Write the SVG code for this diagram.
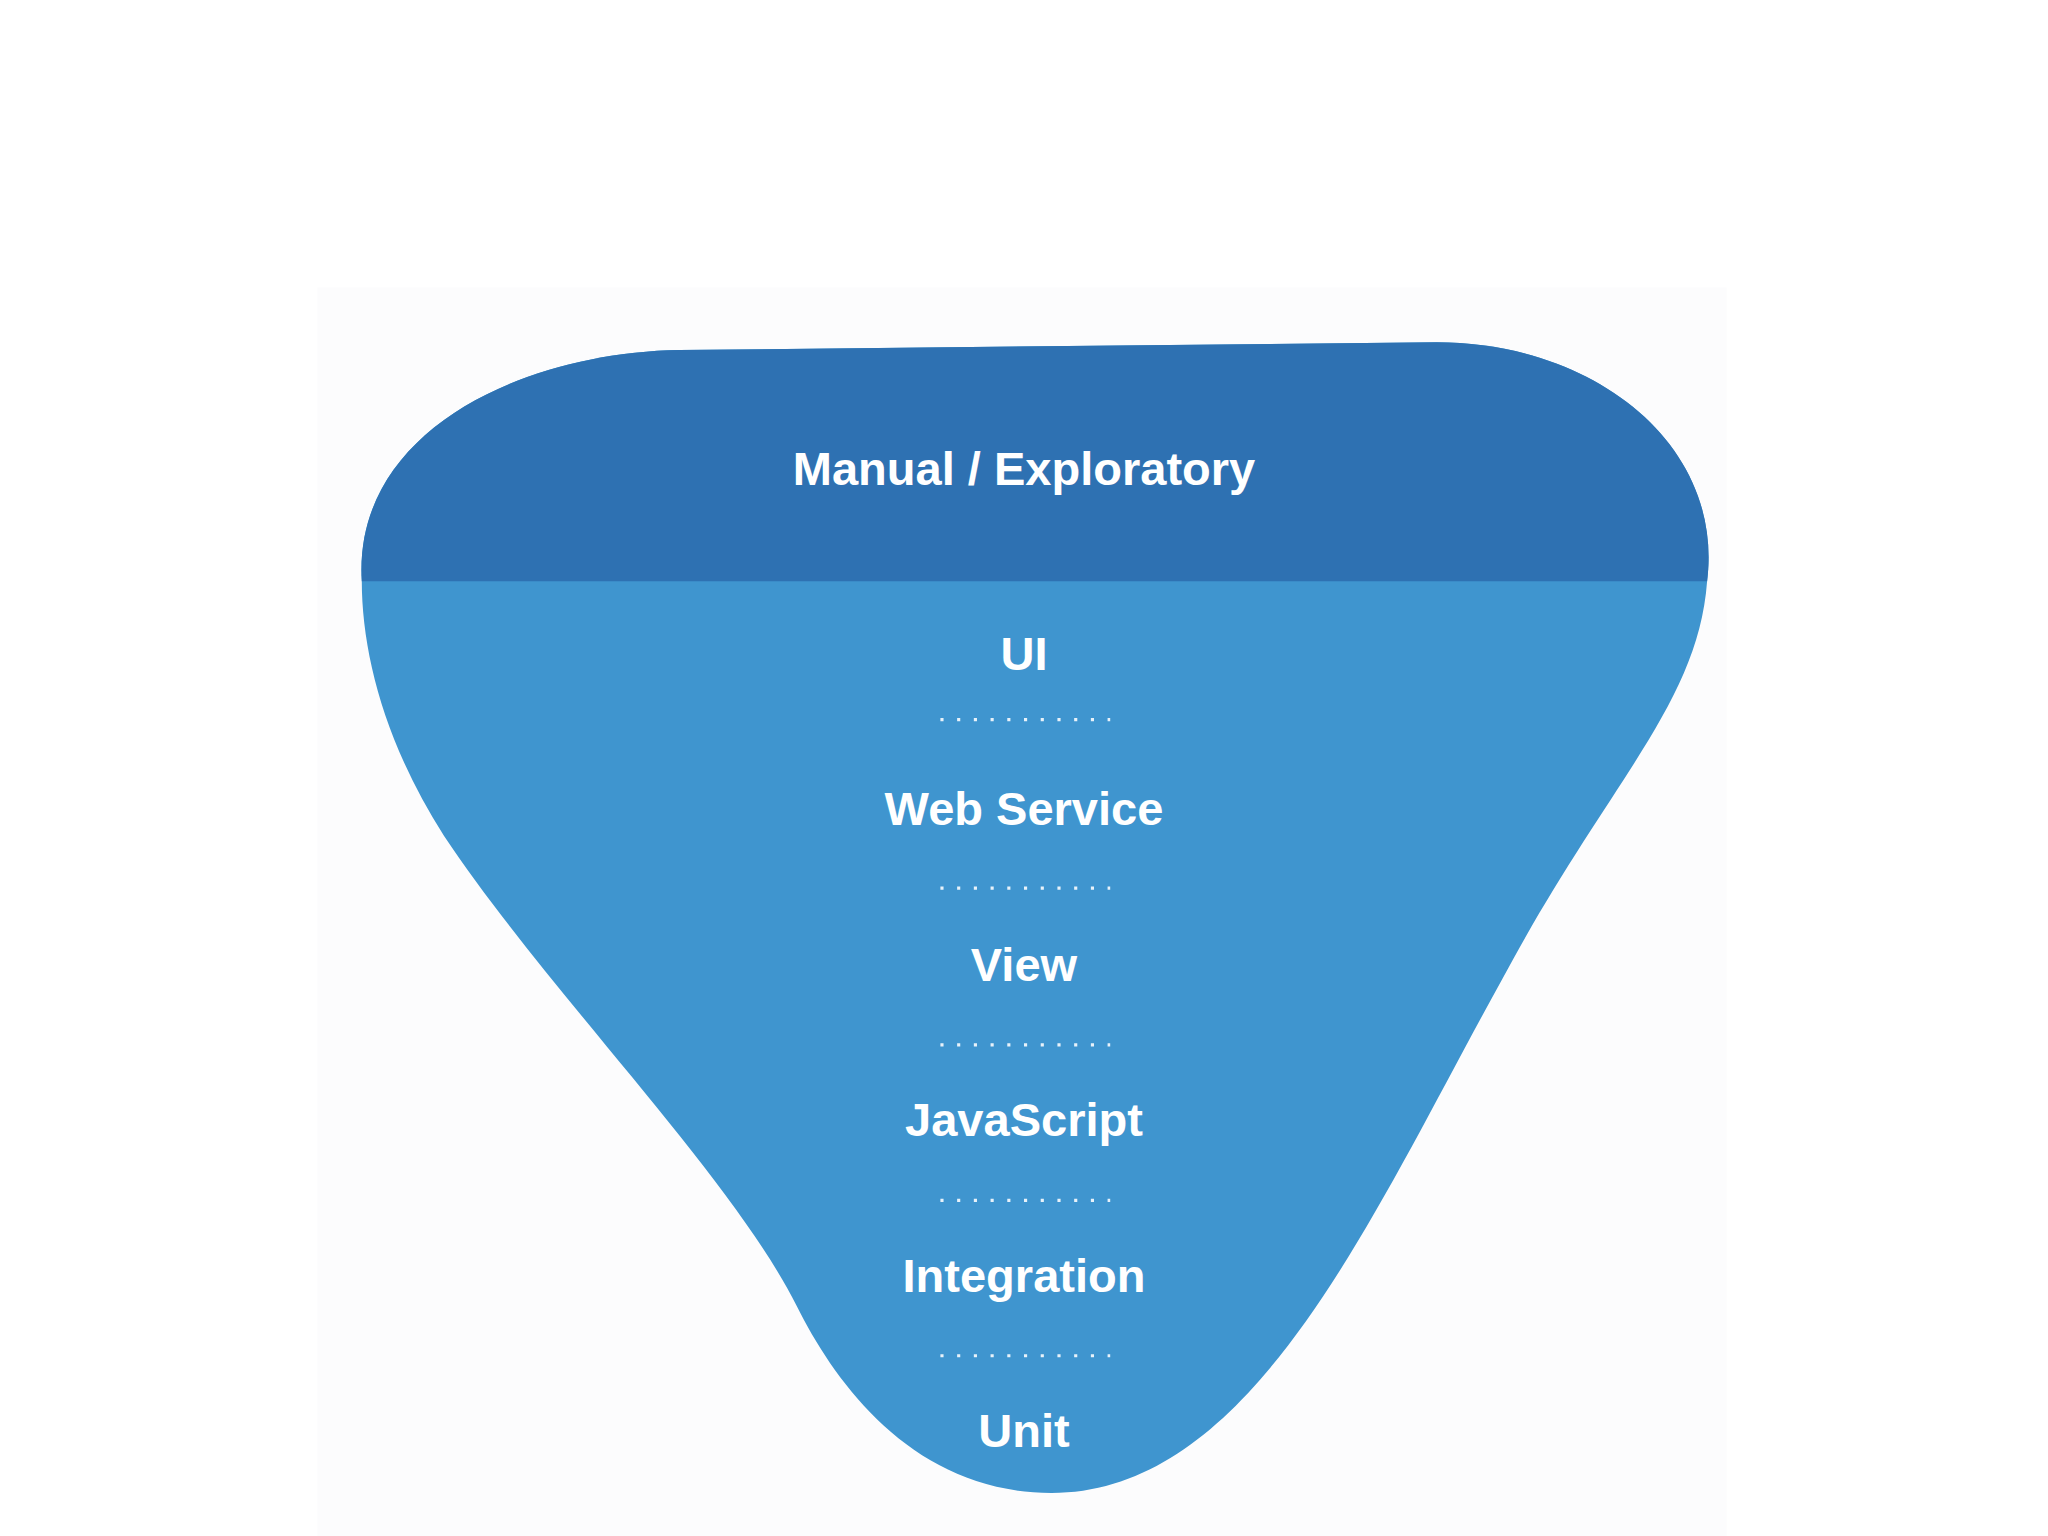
<svg xmlns="http://www.w3.org/2000/svg" width="2048" height="1536" viewBox="0 0 2048 1536">
<style>
.t{font-family:"Liberation Sans",Arial,sans-serif;font-weight:bold;font-size:36px;fill:#fff;text-anchor:middle}
.d{stroke:#e8f2fa;stroke-width:2.4;stroke-dasharray:2.4 10.4}
</style>
<rect width="2048" height="1536" fill="#fff"/>
<g transform="scale(1.306122)">
<rect x="243" y="220" width="1079" height="956" fill="#fcfcfd"/>
<g id="funnel">
<path d="M 277,445 C 270,330 400,270 520,268 L 1100,262 C 1220,262 1320,340 1307,445 C 1300,540 1230,600 1150,750 C 1050,930 960,1143 805,1143 C 700,1143 640,1060 610,1000 C 560,900 420,760 340,640 C 295,570 277,500 277,445 Z" fill="#3f95cf"/>
<path d="M 277,445 C 270,330 400,270 520,268 L 1100,262 C 1220,262 1320,340 1307,445 Z" fill="#2e71b2"/>
</g>
<g id="labels">
<text class="t" x="784" y="371">Manual / Exploratory</text>
<text class="t" x="784" y="513">UI</text>
<text class="t" x="784" y="632">Web Service</text>
<text class="t" x="784" y="751">View</text>
<text class="t" x="784" y="870">JavaScript</text>
<text class="t" x="784" y="989">Integration</text>
<text class="t" x="784" y="1108">Unit</text>
</g>
<g id="separators">
<line class="d" x1="720" y1="551" x2="850" y2="551"/>
<line class="d" x1="720" y1="680" x2="850" y2="680"/>
<line class="d" x1="720" y1="800" x2="850" y2="800"/>
<line class="d" x1="720" y1="919" x2="850" y2="919"/>
<line class="d" x1="720" y1="1038" x2="850" y2="1038"/>
</g>
</g>
</svg>
